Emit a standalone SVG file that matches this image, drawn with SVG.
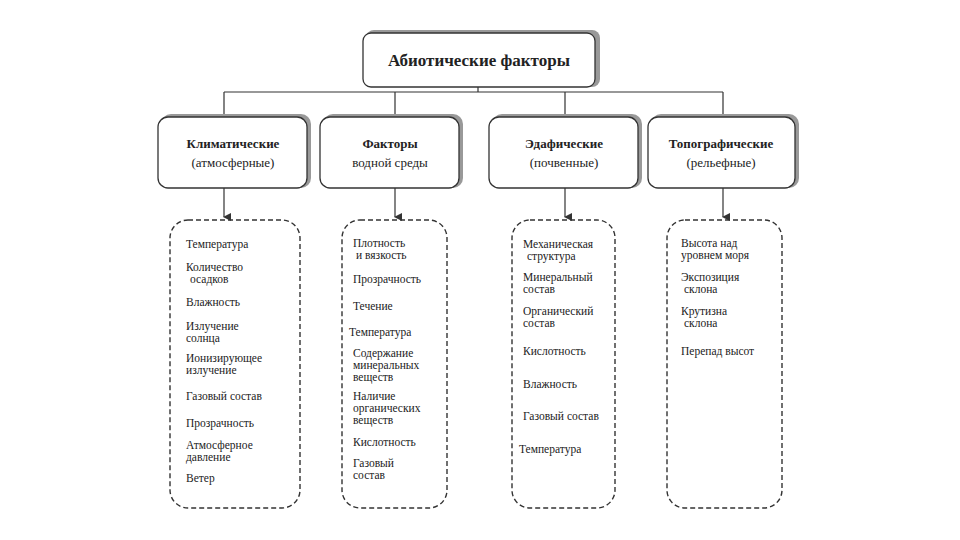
<svg xmlns="http://www.w3.org/2000/svg" width="960" height="540" viewBox="0 0 960 540" font-family="'Liberation Serif','DejaVu Serif',serif">
<style>
.box{fill:#fff;stroke:#333;stroke-width:1.3}
.sh{fill:#999;stroke:none}
.dash{fill:none;stroke:#333;stroke-width:1.4;stroke-dasharray:5,3}
.ln{stroke:#333;stroke-width:1.2;fill:none}
text{font-family:'Liberation Serif','DejaVu Serif',serif;fill:#222}
.h{font-size:13px;font-weight:bold;text-anchor:middle}
.t{font-size:11.5px}
</style>
<defs><marker id="a" markerWidth="8" markerHeight="8" refX="4" refY="7" orient="auto" markerUnits="userSpaceOnUse"><path d="M0,0 L8,0 L4,8 z" fill="#333"/></marker></defs>
<rect width="960" height="540" fill="#fff"/>
<g id="connectors">
<path class="ln" d="M478,86 V92 M224,92 H723 M224,92 V114 M395,92 V114 M565,92 V114 M723,92 V114"/>
<line class="ln" x1="224" y1="188" x2="224" y2="217" marker-end="url(#a)"/>
<line class="ln" x1="395" y1="188" x2="395" y2="217" marker-end="url(#a)"/>
<line class="ln" x1="565" y1="188" x2="565" y2="217" marker-end="url(#a)"/>
<line class="ln" x1="723" y1="188" x2="723" y2="217" marker-end="url(#a)"/>
</g>
<g id="root"><rect class="sh" x="366" y="30" width="234" height="57" rx="8"/><rect class="box" x="363" y="33" width="232" height="54" rx="8"/><text class="h" x="479" y="66" style="font-size:17px">Абиотические факторы</text></g>
<g id="n1"><rect class="sh" x="161" y="114" width="150" height="74" rx="10"/><rect class="box" x="158" y="117" width="149" height="71" rx="10"/><text class="h" x="233" y="148">Климатические</text><text class="h" x="233" y="167" style="font-weight:normal">(атмосферные)</text></g>
<g id="n2"><rect class="sh" x="323" y="114" width="140" height="74" rx="10"/><rect class="box" x="320" y="117" width="139" height="71" rx="10"/><text class="h" x="390" y="148">Факторы</text><text class="h" x="390" y="167" style="font-weight:normal">водной среды</text></g>
<g id="n3"><rect class="sh" x="492" y="114" width="150" height="74" rx="10"/><rect class="box" x="489" y="117" width="149" height="71" rx="10"/><text class="h" x="564" y="148">Эдафические</text><text class="h" x="564" y="167" style="font-weight:normal">(почвенные)</text></g>
<g id="n4"><rect class="sh" x="651" y="114" width="148" height="74" rx="10"/><rect class="box" x="648" y="117" width="147" height="71" rx="10"/><text class="h" x="721" y="148">Топографические</text><text class="h" x="721" y="167" style="font-weight:normal">(рельефные)</text></g>
<g id="l1"><rect class="dash" x="170" y="220" width="130" height="288" rx="18"/>
<text class="t" x="186" y="248">Температура</text>
<text class="t" x="186" y="271">Количество</text><text class="t" x="190" y="283">осадков</text>
<text class="t" x="186" y="306">Влажность</text>
<text class="t" x="186" y="330">Излучение</text><text class="t" x="186" y="342">солнца</text>
<text class="t" x="186" y="362">Ионизирующее</text><text class="t" x="186" y="374">излучение</text>
<text class="t" x="186" y="400">Газовый состав</text>
<text class="t" x="186" y="427">Прозрачность</text>
<text class="t" x="186" y="449">Атмосферное</text><text class="t" x="186" y="461">давление</text>
<text class="t" x="186" y="482">Ветер</text></g>
<g id="l2"><rect class="dash" x="342" y="220" width="105" height="288" rx="18"/>
<text class="t" x="353" y="247">Плотность</text><text class="t" x="356" y="259">и вязкость</text>
<text class="t" x="353" y="283">Прозрачность</text>
<text class="t" x="353" y="310">Течение</text>
<text class="t" x="349" y="336">Температура</text>
<text class="t" x="353" y="357">Содержание</text><text class="t" x="353" y="369">минеральных</text><text class="t" x="353" y="381">веществ</text>
<text class="t" x="353" y="400">Наличие</text><text class="t" x="353" y="412">органических</text><text class="t" x="353" y="424">веществ</text>
<text class="t" x="353" y="446">Кислотность</text>
<text class="t" x="353" y="467">Газовый</text><text class="t" x="353" y="479">состав</text></g>
<g id="l3"><rect class="dash" x="512" y="220" width="103" height="288" rx="18"/>
<text class="t" x="523" y="248">Механическая</text><text class="t" x="527" y="260">структура</text>
<text class="t" x="523" y="281">Минеральный</text><text class="t" x="523" y="293">состав</text>
<text class="t" x="523" y="315">Органический</text><text class="t" x="523" y="327">состав</text>
<text class="t" x="523" y="355">Кислотность</text>
<text class="t" x="523" y="388">Влажность</text>
<text class="t" x="523" y="420">Газовый состав</text>
<text class="t" x="519" y="453">Температура</text></g>
<g id="l4"><rect class="dash" x="667" y="220" width="115" height="288" rx="18"/>
<text class="t" x="681" y="247">Высота над</text><text class="t" x="681" y="259">уровнем моря</text>
<text class="t" x="681" y="281">Экспозиция</text><text class="t" x="684" y="293">склона</text>
<text class="t" x="681" y="315">Крутизна</text><text class="t" x="684" y="327">склона</text>
<text class="t" x="681" y="355">Перепад высот</text></g>
</svg>
